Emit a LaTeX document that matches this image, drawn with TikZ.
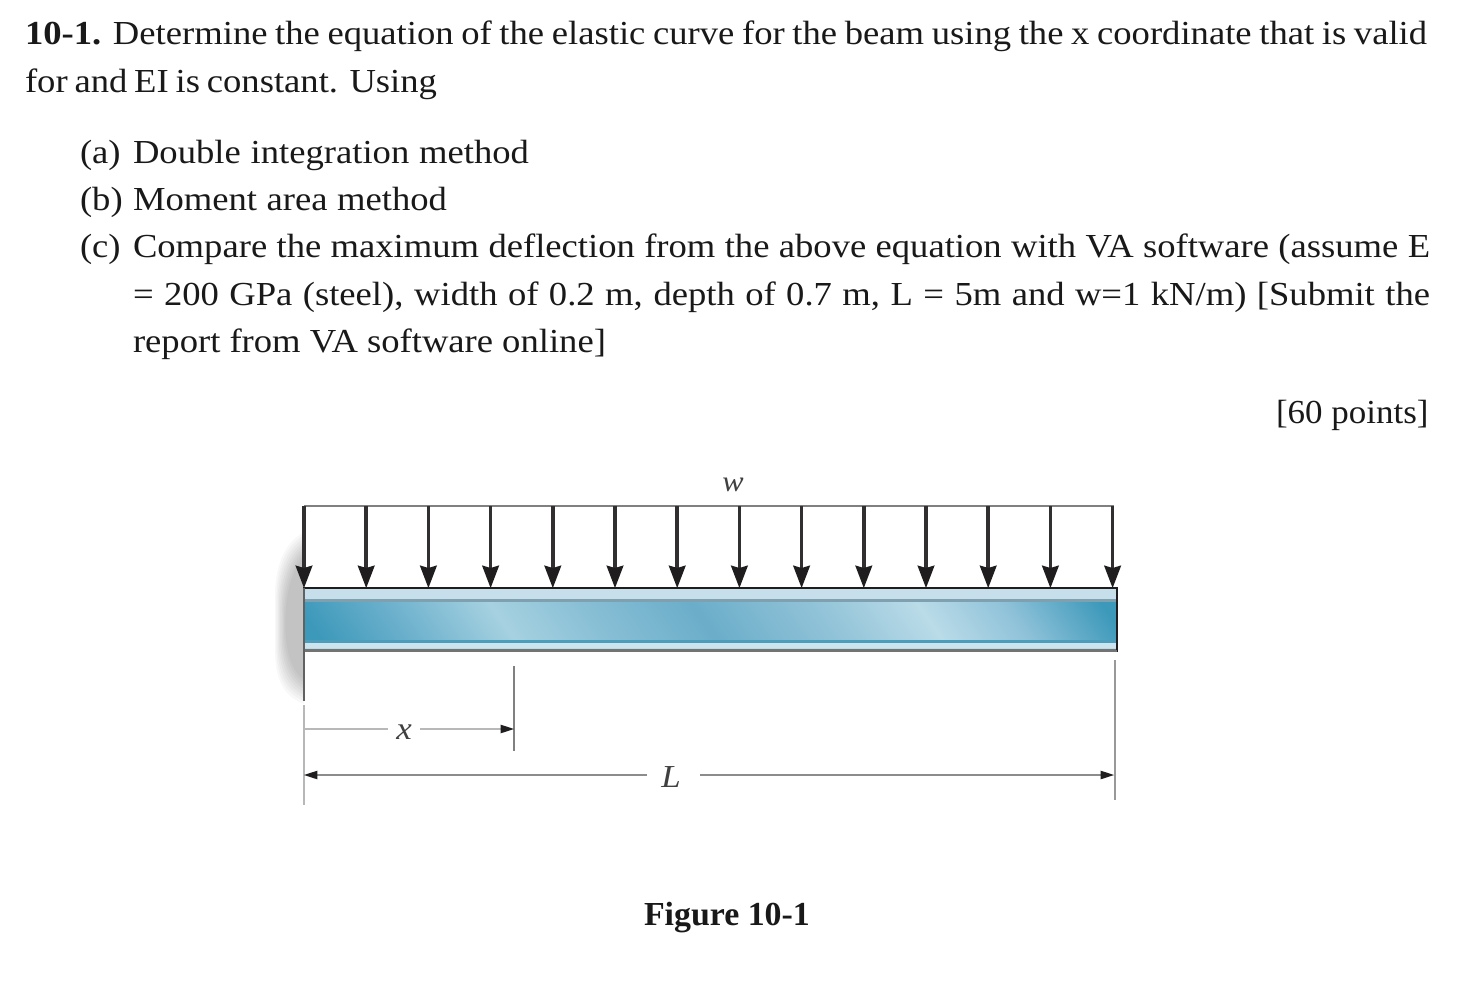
\documentclass[tikz,border=0pt]{standalone}
\usepackage{fontspec}
\setmainfont[FakeStretch=1.09]{Liberation Serif}
\usetikzlibrary{arrows.meta,calc}
\definecolor{inkc}{HTML}{1F1D1E}
\definecolor{flange}{HTML}{C6DFEA}
\definecolor{flangeb}{HTML}{BBDBE7}
\definecolor{seam}{HTML}{7FA0AF}
\definecolor{seamb}{HTML}{4C9CBB}
\pgfdeclarehorizontalshading{webshade}{100bp}{
  rgb(0bp)=(0.24,0.60,0.73);
  rgb(27bp)=(0.24,0.60,0.73);
  rgb(32bp)=(0.42,0.69,0.80);
  rgb(38bp)=(0.65,0.82,0.88);
  rgb(44bp)=(0.52,0.74,0.83);
  rgb(49.6bp)=(0.42,0.68,0.79);
  rgb(57bp)=(0.58,0.77,0.85);
  rgb(62.5bp)=(0.73,0.86,0.91);
  rgb(67.5bp)=(0.56,0.76,0.85);
  rgb(73bp)=(0.24,0.60,0.73);
  rgb(100bp)=(0.24,0.60,0.73)}
\newcommand{\txtline}[2]{\makebox[\dimexpr #1pt*3/4\relax][s]{#2}}
\tikzset{
  x=0.75pt,y=-0.75pt,
  txt/.style={anchor=base west,inner sep=0pt,outer sep=0pt,font=\fontsize{25.2pt}{30pt}\selectfont,text=black!90},
  sym/.style={inner sep=0pt,outer sep=0pt,font=\fontsize{24pt}{28pt}\selectfont\itshape,text=black!75},
  load/.style={draw=inkc!92,line width=2.6pt,-{Stealth[length=17pt,width=13pt,inset=2pt,color=inkc,fill=inkc,line width=0pt]}},
  loadtop/.style={draw=black!50,line width=1.5pt},
  dimthin/.style={draw=black!28,line width=1.4pt},
  dimline/.style={draw=black!45,line width=1.2pt},
  dimtip/.style={-{Triangle[length=10pt,width=6.5pt,color=inkc,fill=inkc,line width=0pt]}},
}
\begin{document}
\begin{tikzpicture}
\useasboundingbox (0,0) rectangle (1480,984);
\fill[white] (0,0) rectangle (1480,984);
% text
\node[txt] (t1) at (25,45) {\txtline{1402}{\textbf{10-1.} Determine the equation of the elastic curve for the beam using the x coordinate that is valid}};
\node[txt] (t2) at (25,93) {\txtline{412}{for and EI is constant. Using}};
\node[txt] (la) at (80,164) {(a)};
\node[txt] (ta) at (133,164) {\txtline{396}{Double integration method}};
\node[txt] (lb) at (80,211) {(b)};
\node[txt] (tb) at (133,211) {\txtline{314}{Moment area method}};
\node[txt] (lc) at (80,257.5) {(c)};
\node[txt] (tc) at (133,257.5) {\txtline{1297}{Compare the maximum deflection from the above equation with VA software (assume E}};
\node[txt] (td) at (133,305) {\txtline{1297}{= 200 GPa (steel), width of 0.2 m, depth of 0.7 m, L = 5m and w=1 kN/m) [Submit the}};
\node[txt] (te) at (133,352) {\txtline{473}{report from VA software online]}};
\node[txt] (pts) at (1276,423) {\scalebox{0.955}[1]{[60 points]}};
\node[txt] (fig) at (644,925) {\scalebox{0.925}[1]{\textbf{Figure 10-1}}};
% wall shadow (soft edge from nested layers)
\foreach \i in {0,...,8}{
  \pgfmathsetmacro{\xl}{275+\i*1.3}
  \pgfmathsetmacro{\yt}{532+\i*3}
  \pgfmathsetmacro{\yb}{704-\i*3}
  \fill[black,opacity=0.028] (304,\yt) .. controls (\xl+8,\yt+12) and (\xl,\yt+35) .. (\xl,\yt+65) -- (\xl,\yb-55) .. controls (\xl,\yb-25) and (\xl+8,\yb-8) .. (304,\yb) -- cycle;
}
% beam
\fill[flange] (304,588) rectangle (1117,599);
\fill[flangeb] (304,640) rectangle (1117,651);
\begin{scope}
\clip (304,600) rectangle (1117,641);
\begin{scope}[transform canvas={xslant=-0.7}]
\shade[shading=webshade] (304-434-30,590) rectangle (1117-434+30,650);
\end{scope}
\end{scope}
\fill[seam] (304,598.5) rectangle (1117,601.5);
\fill[seamb] (304,639.5) rectangle (1117,642.5);
\fill[white!25!flangeb] (304,643) rectangle (1117,648);
\fill[black!55] (304,648.5) rectangle (1117,651.5);
\node[draw=inkc,line width=1.5pt,inner sep=0pt,outer sep=0pt,minimum width=813*0.75pt,minimum height=63*0.75pt] (beam) at (710.5,619.5) {};
\draw[draw=black!55,line width=1.6pt] (beam.south west) -- (beam.south east);
% wall and extension lines
\coordinate (wt) at (304,588); \coordinate (wb) at (304,701);
\draw[draw=black!62,line width=2pt] (wt) -- (wb);
\coordinate (e1t) at (304,705); \coordinate (e1b) at (304,805);
\draw[dimthin] (e1t) -- (e1b);
\coordinate (e2t) at (514,666); \coordinate (e2b) at (514,751);
\draw[draw=black!50,line width=1.2pt] (e2t) -- (e2b);
\coordinate (e3t) at (1115,660); \coordinate (e3b) at (1115,800);
\draw[draw=black!40,line width=1.4pt] (e3t) -- (e3b);
% uniform load
\coordinate (lt0) at (304,506); \coordinate (lt1) at (1114,506);
\draw[loadtop] (lt0) -- (lt1);
\foreach \i in {0,...,13}{
  \pgfmathsetmacro{\xx}{304+\i*62.2}
  \coordinate (as\i) at (\xx,506);
  \coordinate (ae\i) at (\xx,588);
  \draw[load] (as\i) -- (ae\i);
}
% labels
\node[sym,anchor=base] (w) at (733,491) {\fontsize{22pt}{26pt}\selectfont w};
\node[sym,anchor=base] (xl) at (404,739) {x};
\node[sym,anchor=base] (Ll) at (671,787) {L};
% dimensions
\coordinate (xs) at (304,729); \coordinate (xe) at (514,729);
\coordinate (xa) at (388,729); \coordinate (xb) at (420,729);
\draw[dimthin] (xs) -- (xa);
\draw[dimthin,dimtip] (xb) -- (xe);
\coordinate (Ls) at (304,775); \coordinate (Le) at (1114,775);
\coordinate (La) at (647,775); \coordinate (Lb) at (700,775);
\draw[dimline,dimtip] (La) -- (Ls);
\draw[dimline,dimtip] (Lb) -- (Le);
\end{tikzpicture}
\end{document}
